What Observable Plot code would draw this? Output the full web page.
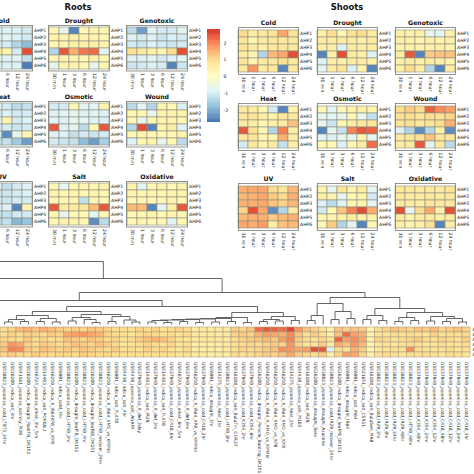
<!DOCTYPE html>
<html>
<head>
<meta charset="utf-8">
<script src="https://cdn.jsdelivr.net/npm/d3@7"></script>
<script src="https://cdn.jsdelivr.net/npm/@observablehq/plot@0.6"></script>
<style>
  html, body { margin: 0; padding: 0; background: #fff; }
  #chart { position: relative; width: 474px; height: 474px; overflow: hidden; font-family: "DejaVu Sans", sans-serif; }
  .head { position: absolute; font-weight: bold; font-size: 8.4px; transform: translate(-50%, -50%); white-space: nowrap; color: #111; }
</style>
</head>
<body>
<div id="chart"></div>
<script>
// ---- shared categories ----
const times = ["30 min", "1 hour", "3 hour", "6 hour", "12 hour", "24 hour"];
const genes = ["AHP1", "AHP2", "AHP3", "AHP4", "AHP5", "AHP6"];
const palette = ["#4575B4", "#91BFDB", "#E0F3F8", "#FFFFBF", "#FEE090", "#FC8D59", "#D73027"];
const colorLow = -2.7, colorHigh = 2.8;
const colorTicks = [-2, -1, 0, 1, 2];

// ---- Roots: log2 fold change, rows AHP1..AHP6, columns 30 min..24 hour ----
const rootsCold = [
  [-0.8, -0.7, -0.9, -0.9, -0.9, -1.0],
  [-0.7, -0.8, -0.8, -0.8, -0.9, -1.0],
  [-0.9, -0.8, -1.0, -1.0, -1.4, -1.8],
  [0.5, -0.9, 0.6, 0.4, -1.0, 2.5],
  [-0.8, -0.9, -0.7, -0.9, -0.8, -1.2],
  [-1.0, -0.8, -0.9, -0.9, -0.9, -2.6]
];
const rootsDrought = [
  [0.3, -0.7, -2.5, 0.3, 0.4, 0.3],
  [0.4, 0.4, 0.5, 0.4, 0.4, 0.3],
  [0.3, 0.4, 0.5, 0.5, 0.5, 0.4],
  [-1.4, 2.4, 1.5, 2.1, 2.2, -0.8],
  [0.3, 0.4, 0.4, 0.3, 0.4, 0.3],
  [-0.7, 0.4, 0.4, 0.3, -0.7, 0.3]
];
const rootsGenotoxic = [
  [-1.3, -2.2, -0.8, -1.0, -1.0, -0.8],
  [-0.9, -1.0, -0.9, -1.1, -0.9, -1.0],
  [-1.0, -1.1, -0.9, -1.0, -1.1, -1.0],
  [0.9, 0.7, 0.5, 0.3, 1.0, 2.5],
  [-0.9, -0.9, -0.8, -1.0, -0.9, -0.8],
  [-1.1, -1.0, -0.9, -1.0, -2.5, -1.1]
];
const rootsHeat = [
  [-0.9, -1.1, -0.8, -1.0, -1.3, -1.2],
  [-0.8, -0.9, -1.0, -0.9, -1.0, -1.0],
  [0.3, -0.8, -0.9, 0.4, -1.0, -0.9],
  [-0.9, 0.4, -1.0, -1.0, -1.1, -1.0],
  [-1.0, -0.9, -1.1, -2.4, -0.7, 0.3],
  [-1.1, -1.0, -1.2, -1.2, -1.6, -2.2]
];
const rootsOsmotic = [
  [-1.0, -1.0, 0.3, -0.8, -0.8, 0.4],
  [-0.9, -0.8, -0.8, -0.9, -0.8, -0.9],
  [-0.8, -0.9, -0.7, -0.8, -0.9, -0.9],
  [2.4, -0.9, -0.8, -1.3, 0.3, 2.4],
  [-0.9, -0.9, -1.2, -1.0, -1.1, -1.0],
  [-1.0, -1.1, -1.2, -1.8, -2.2, -1.5]
];
const rootsWound = [
  [-1.3, -0.8, -1.4, 0.4, 0.3, -0.9],
  [0.3, 0.3, -0.7, 0.4, 0.4, 0.4],
  [0.3, -0.7, 0.3, 0.4, 0.4, 0.3],
  [-1.4, 2.5, -2.5, 0.4, 0.6, -0.9],
  [0.3, 0.4, 0.3, 0.3, 0.3, 0.4],
  [-0.9, 0.3, 0.4, -0.7, 0.3, -1.3]
];
const rootsUV = [
  [-1.0, -1.1, -0.9, -1.2, -1.0, -0.9],
  [-0.9, -1.0, -1.1, -1.1, -1.0, -0.9],
  [-1.0, -0.9, -1.0, -1.1, -1.0, -1.0],
  [0.4, -1.0, -0.9, -0.9, -2.5, 0.4],
  [-1.1, -1.0, -1.2, -1.2, -1.0, -1.0],
  [-1.2, -1.1, -1.3, -1.2, -1.9, -1.7]
];
const rootsSalt = [
  [0.3, -0.7, 0.3, 0.4, 0.3, 0.4],
  [0.4, 0.3, 0.4, 0.3, 0.4, 0.3],
  [0.3, 0.3, 0.4, -1.2, 0.3, 0.3],
  [2.4, 0.6, 0.6, 0.8, 1.4, 2.4],
  [0.3, -0.7, 0.3, 0.3, -0.8, 0.3],
  [0.3, 0.4, 0.4, 0.3, -2.4, -1.3]
];
const rootsOxidative = [
  [0.4, -0.8, 0.3, 0.4, 0.3, 0.4],
  [0.4, 0.3, 0.4, 0.3, 0.4, 0.4],
  [0.3, 0.3, 0.3, 0.3, 0.4, 0.3],
  [1.4, 1.4, -2.5, -0.8, 0.5, 2.4],
  [0.3, 0.3, 0.4, 0.3, 0.4, 0.3],
  [0.3, 0.4, 0.3, 0.3, -0.8, 0.3]
];

// ---- Shoots ----
const shootsCold = [
  [1.0, 0.6, 0.7, 0.8, 1.6, 0.8],
  [0.8, 0.3, 0.6, 0.7, 0.7, 0.7],
  [0.8, 0.6, 0.5, 0.7, 0.8, 0.7],
  [0.6, 0.4, -1.4, 1.4, 1.6, 2.5],
  [0.8, 0.3, 0.6, 0.7, 0.9, 0.7],
  [0.7, 1.8, 0.6, 0.7, -2.5, 0.7]
];
const shootsDrought = [
  [0.5, 1.0, 0.3, 0.9, 1.0, 0.6],
  [0.6, 0.6, 0.6, 0.6, 0.5, 0.6],
  [0.5, 0.5, -0.9, 0.6, 0.6, 0.5],
  [-2.5, 0.5, 2.5, 0.6, 0.5, -0.9],
  [-0.9, 0.5, 0.5, 0.6, 0.6, 0.4],
  [-0.8, 0.6, 0.8, -0.9, 0.4, -2.5]
];
const shootsGenotoxic = [
  [0.5, 0.4, 0.5, -0.7, -0.7, 0.5],
  [0.5, 0.5, 0.4, 0.5, 0.4, 0.5],
  [0.4, 0.5, 0.4, 0.4, 0.5, 0.4],
  [0.6, 2.4, -2.5, 1.2, 1.3, 1.3],
  [0.5, 0.6, 0.5, 0.6, 0.5, 0.4],
  [0.5, 1.0, 0.5, -1.4, -2.5, 0.6]
];
const shootsHeat = [
  [0.7, 0.6, 0.3, -1.0, -2.5, 0.4],
  [0.7, 0.8, 0.5, 0.4, 0.7, 0.6],
  [0.6, 0.5, 0.3, 0.5, 0.6, 1.3],
  [2.4, 0.9, 0.3, -1.4, 2.0, 0.5],
  [0.7, 0.8, 0.4, 0.3, 1.5, 0.5],
  [-1.0, 0.7, 0.4, 0.6, -1.2, 0.5]
];
const shootsOsmotic = [
  [0.3, -0.8, 0.3, 0.4, 0.5, 0.4],
  [-0.7, -0.8, -0.7, 0.3, -0.7, -1.2],
  [-0.7, -1.1, 0.3, 0.6, 0.7, 0.8],
  [-2.5, -0.7, -1.2, 2.0, 2.4, 2.3],
  [-0.8, -0.9, -0.7, -0.7, 0.3, -0.7],
  [0.3, 0.3, -0.9, 0.3, 0.6, 2.2]
];
const shootsWound = [
  [1.0, 1.2, 1.0, 2.3, 1.9, 1.7],
  [0.9, 1.0, 0.8, 1.0, 0.9, 1.1],
  [0.8, 0.9, 0.7, 0.8, 1.0, 1.5],
  [-0.9, -1.4, -2.4, -1.4, 0.5, -2.4],
  [0.7, 0.8, 0.9, 1.3, 0.8, 0.8],
  [0.6, 0.7, 2.4, -0.7, 0.7, -1.3]
];
const shootsUV = [
  [1.5, 1.6, 1.6, 1.0, 0.8, 1.4],
  [1.4, 1.5, 1.6, 1.2, 1.0, 1.5],
  [1.5, 1.5, 1.6, 1.3, 1.1, 1.4],
  [1.1, 2.5, 1.6, -2.4, -1.4, 0.6],
  [1.4, 1.5, 1.5, 1.2, 1.4, 1.5],
  [1.6, 1.5, 1.7, 0.5, 1.3, 1.4]
];
const shootsSalt = [
  [0.4, -0.7, 0.8, 0.4, 0.6, -0.7],
  [0.5, 0.4, -0.7, 0.3, 0.4, -1.0],
  [-0.9, -1.3, -0.8, 0.3, 0.4, -0.8],
  [-1.0, 0.3, 1.3, 2.0, 2.5, 1.5],
  [0.3, 0.4, 0.5, 0.6, 0.5, 0.4],
  [0.3, 1.2, -1.4, -0.8, -2.5, 0.3]
];
const shootsOxidative = [
  [0.8, 0.7, 0.6, 0.7, 0.6, 0.8],
  [0.7, 0.6, 0.6, 0.7, 0.6, 0.7],
  [0.6, 0.6, 0.6, 0.8, 0.7, 0.7],
  [2.5, -0.7, 1.0, 1.6, 0.5, 2.5],
  [0.6, 0.4, 0.6, 0.6, 0.5, 0.6],
  [0.5, 0.4, 0.5, 0.9, -2.5, 0.6]
];

// ---- Rice expression series (columns of the clustered strip) ----
const studyLabels = [
  "GSE38023_japonica_cold_LTBT3_24hr", "GSE26280_indica_salt_4hr", "GSE41161_japonica_salinity_M20",
  "GSE26280_indica_drought_RootFB_DK151", "GSE46724_japonica_alkali_3hr_Sm", "GSE14403_indica_salt_POKKALI",
  "GSE46250_indica_K_IR64KP8_vs_KM5", "GSE6901_indica_cold_3hr", "GSE38023_japonica_cold_LHT40_2hr",
  "GSE26280_indica_drought_leafFB_DK151", "GSE38023_japonica_cold_LHT40_4hr", "GSE26280_indica_drought_leafBB_DK151",
  "GSE38023_japonica_cold_LHT40_recover_24hr", "GSE46250_indica_K_IR64_KM5_vs_KMMbl", "GSE6901_indica_salt_FL478",
  "GSE4438_indica_salt_4hr", "GSE4438_japonica_salt_AGAMI", "GSE37940_japonica_K_def_3day",
  "GSE14403_indica_salt_IR29", "GSE37940_japonica_K_def_3hr", "GSE14403_indica_salt_FL478",
  "GSE37940_japonica_cold_C418_6hr", "GSE46724_japonica_alkali_6hr_Sm", "GSE37940_japonica_K_def_6hr",
  "GSE46250_indica_K_IR64_KP8_vs_KMMbl", "GSE37940_japonica_cold_C418_2hr", "GSE6901_indica_drought_3hr",
  "GSE14275_japonica_heat_1hr", "GSE38023_japonica_cold_LHT40_8hr", "GSE16108_indica_salt_BuluTiri_COR37",
  "GSE37940_japonica_cold_K354_2hr", "GSE37940_japonica_cold_K354_6hr", "GSE26280_indica_drought_Panicle_Booting_DK151",
  "GSE46250_indica_K_IR64_K_KMO_vs_KMMbl", "GSE46250_indica_K_IR64_KMO_vs_KP8", "GSE46250_indica_K_IR64_KMO_vs_KM5",
  "GSE14275_japonica_heat_2hr", "GSE4438_japonica_salt_M103", "GSE16108_indica_salt_IR29",
  "GSE26280_japonica_drought_Bala", "GSE38023_japonica_drought_Azucena", "GSE38023_japonica_cold_IR29_recover_24hr",
  "GSE26280_indica_drought_leafPB_DK151", "GSE6901_indica_drought_IR64", "GSE6901_indica_salt_IR64",
  "GSE21651_indica_salt_CSR11", "GSE16108_indica_salt_BuluSen_MA8", "GSE38023_japonica_cold_IR29_2hr",
  "GSE38023_japonica_cold_IR29_8hr", "GSE38023_japonica_cold_IR29_24hr", "GSE38023_japonica_cold_IR29_48hr",
  "GSE38023_japonica_cold_LHT40_48hr", "GSE37940_japonica_cold_K354_48hr", "GSE37940_japonica_cold_K354_24hr",
  "GSE37940_japonica_cold_K354_12hr", "GSE37940_japonica_cold_C418_48hr", "GSE37940_japonica_cold_C418_12hr",
  "GSE37940_japonica_cold_C418_24hr", "GSE37940_japonica_cold_C418_3hr"
];
const studyAHP1 = [1.0,1.1,1.4,1.5,1.3,1.5,1.4,1.2, 1.1,1.2,1.1,1.3,1.2,1.1,1.0, 1.0,0.9,1.1,1.0,1.1,0.9,1.0,1.1,1.0, 0.6,0.7,0.6,0.7,0.6, 1.2,1.1,1.3, 2.2,2.4,2.3,2.2,2.6,1.8, 1.3,1.1,0.9, 0.4, 1.3,1.2,1.3,1.2, 0.3, 1.0,1.1,1.3,1.2,1.1,1.3,1.2,1.4,1.1,1.2,1.3,1.1];
const studyAHP2 = [0.9,1.1,1.0,1.2,1.1,1.0,1.2,1.1, 1.6,1.7,1.8,1.6,1.5,1.1,1.0, 0.9,0.8,1.0,1.1,1.0,0.9,1.0,0.9,1.0, 0.7,0.6,0.7,0.6,0.7, 1.1,1.2,1.1, 1.5,1.7,1.6,1.5,1.9,1.3, 0.9,1.2,1.0, 0.5, 1.3,2.2,1.7,1.5, 0.4, 0.9,0.8,1.0,0.9,1.0,0.9,0.8,1.1,0.9,1.0,0.9,1.0];
const studyAHP3 = [1.1,1.0,0.9,1.2,1.0,1.1,0.9,1.0, 1.3,1.2,1.1,1.3,1.2,1.0,1.1, 0.9,1.0,1.2,1.3,1.5,1.3,1.1,0.9,0.8, 0.6,0.6,0.7,0.6,0.6, 1.0,1.1,1.2, 1.3,1.4,1.2,1.7,2.0,1.2, 1.0,0.9,1.1, 0.8, 2.3,1.7,1.9,1.6, 0.4, 1.1,1.0,0.9,1.0,1.1,1.2,1.0,0.9,1.1,1.0,0.9,1.1];
const studyAHP4 = [1.2,1.8,1.6,1.1,1.0,1.2,1.1,1.0, 1.1,1.3,1.2,1.1,1.3,1.2,1.0, 0.8,0.9,1.0,1.1,1.0,0.9,1.1,0.8,0.9, 0.5,0.6,0.5,0.6,0.7, 0.9,1.0,1.1, 1.0,1.1,1.2,1.1,1.8,1.1, 0.8,0.9,1.2, 0.6, 1.6,1.3,1.8,1.4, 0.3, 0.8,0.9,0.8,0.9,1.0,0.9,0.8,0.9,1.0,0.8,0.9,1.0];
const studyAHP5 = [1.3,2.0,1.9,1.2,1.1,1.3,1.2,1.1, 1.2,1.1,1.3,1.2,1.1,1.0,1.2, 0.9,1.0,0.9,1.1,1.0,1.1,0.9,0.8,1.0, 0.6,0.5,0.6,0.5,0.6, 0.9,1.1,1.0, 1.1,1.2,1.3,1.9,1.8,1.6, 1.7,2.5,2.4, -0.9, 1.0,0.9,1.5,1.2, 0.3, 0.8,0.9,1.0,0.9,1.9,1.0,0.9,0.8,0.9,1.0,0.8,0.9];
const studyAHP6 = [1.1,1.2,1.1,1.0,1.2,1.1,1.0,1.1, 1.1,1.0,1.2,1.1,1.0,1.1,1.0, 0.9,1.0,0.9,1.0,0.9,1.0,0.9,0.8,0.9, 0.6,0.6,0.5,0.6,0.6, 1.0,0.9,1.0, 1.1,1.2,1.1,1.3,1.6,1.2, 1.1,1.0,1.2, 0.5, 1.1,1.7,1.6,1.1, 0.4, 0.9,1.0,0.9,0.8,1.0,0.9,1.0,0.9,0.8,1.0,0.9,0.8];

// Hierarchical clustering of the series: [mergeHeight, left, right]; a bare number is a column.
// Columns below 0 belong to series to the left of the shown strip.
const clusterC = [1.3,
  [0.9, [0.5, [0.25, 0, 1], [0.3, 2, 3]], [0.6, [0.3, 4, 5], [0.25, 6, 7]]],
  [1.0, [0.7, [0.35, 8, 9], [0.5, 10, [0.2, 11, 12]]], [0.8, [0.3, 13, 14], [0.45, 15, [0.25, 16, 17]]]]];
const clusterD1 = [0.7, [0.6, [0.55, [0.5, [0.45, [0.4, [0.25, 18, 19], [0.2, 20, 21]], [0.3, 22, 23]], [0.2, 24, 25]], [0.25, 26, 27]], [0.3, 28, 29]], [0.2, 30, 31]];
const clusterD2 = [0.8, [0.5, [0.3, 32, 33], [0.35, 34, 35]], [0.4, 36, 37]];
const clusterN6 = [2.1, [0.9, [0.4, 38, 39], 40], [1.3, [0.5, 41, 42], [0.6, 43, 44]]];
const clusterN7 = [1.6, [0.9, [0.5, 45, 46], [0.4, 47, 48]],
  [1.2, [0.7, [0.3, 49, 50], [0.4, 51, 52]], [0.8, [0.35, 53, 54], [0.6, [0.3, 55, 56], [0.25, 57, 58]]]]];
const clusterTree = [6.3, -4,
  [4.6, [2.5, -3, -2],
    [3.2,
      [2.4, -1, [1.8, clusterC, [1.2, clusterD1, clusterD2]]],
      [2.7, clusterN6, clusterN7]]]];

// ---- helpers ----
const chart = document.getElementById("chart");
const colorScale = {
  type: "linear",
  domain: [colorLow, colorHigh],
  interpolate: d3.piecewise(d3.interpolateRgb, palette)
};
const baseStyle = {
  fontFamily: "DejaVu Sans", fontSize: "4.6px", background: "transparent",
  overflow: "visible", color: "#222"
};
function place(node, left, top) {
  node.style.position = "absolute";
  node.style.left = left + "px";
  node.style.top = top + "px";
  chart.appendChild(node);
}
function heading(text, x, y) {
  const d = document.createElement("div");
  d.className = "head";
  d.textContent = text;
  d.style.left = x + "px";
  d.style.top = y + "px";
  chart.appendChild(d);
}

function heatPanel(title, matrix, left, top, w, h) {
  const data = matrix.flatMap((row, i) => row.map((v, j) => ({gene: genes[i], time: times[j], v})));
  const mL = 2, mR = 22, mT = 12, mB = 26;
  const svg = Plot.plot({
    width: w + mL + mR, height: h + mT + mB,
    marginLeft: mL, marginRight: mR, marginTop: mT, marginBottom: mB,
    style: baseStyle,
    x: {domain: times, padding: 0, tickRotate: 90, tickSize: 0, tickPadding: 2, label: null},
    y: {domain: genes, padding: 0, axis: "right", tickSize: 0, tickPadding: 1.5, label: null},
    color: colorScale,
    marks: [
      Plot.cell(data, {x: "time", y: "gene", fill: "v", stroke: "#8e8e80", strokeWidth: 0.6, inset: 0}),
      Plot.frame({stroke: "#7a7a70", strokeWidth: 0.8}),
      Plot.text([title], {frameAnchor: "top", lineAnchor: "bottom", dy: -2.5,
        fontWeight: "bold", fontSize: 6.2, fill: "#111"})
    ]
  });
  place(svg, left - mL, top - mT);
}

// ---- Roots ----
heading("Roots", 78, 7);
const rootW = 61, rootH = 45.5;
heatPanel("Cold", rootsCold, -29, 25, rootW, rootH);
heatPanel("Drought", rootsDrought, 48, 25, rootW, rootH);
heatPanel("Genotoxic", rootsGenotoxic, 126, 25, rootW, rootH);
heatPanel("Heat", rootsHeat, -29, 101, rootW, rootH);
heatPanel("Osmotic", rootsOsmotic, 48, 101, rootW, rootH);
heatPanel("Wound", rootsWound, 126, 101, rootW, rootH);
heatPanel("UV", rootsUV, -29, 181, rootW, rootH);
heatPanel("Salt", rootsSalt, 48, 181, rootW, rootH);
heatPanel("Oxidative", rootsOxidative, 126, 181, rootW, rootH);

// ---- Shoots ----
heading("Shoots", 347, 7);
const shootW = 60, shootH = 47;
heatPanel("Cold", shootsCold, 238, 27, shootW, shootH);
heatPanel("Drought", shootsDrought, 317, 27, shootW, shootH);
heatPanel("Genotoxic", shootsGenotoxic, 395, 27, shootW, shootH);
heatPanel("Heat", shootsHeat, 238, 103, shootW, shootH);
heatPanel("Osmotic", shootsOsmotic, 317, 103, shootW, shootH);
heatPanel("Wound", shootsWound, 395, 103, shootW, shootH);
heatPanel("UV", shootsUV, 238, 183, shootW, shootH);
heatPanel("Salt", shootsSalt, 317, 183, shootW, shootH);
heatPanel("Oxidative", shootsOxidative, 395, 183, shootW, shootH);

// ---- colour key ----
{
  const step = 0.05;
  const stops = d3.range(colorLow, colorHigh, step);
  const svg = Plot.plot({
    width: 13 + 14, height: 93,
    marginLeft: 0, marginRight: 14, marginTop: 0, marginBottom: 0,
    style: baseStyle,
    x: {domain: [0, 1], axis: null},
    y: {domain: [colorLow, colorHigh], axis: "right", ticks: colorTicks, tickFormat: d => String(d),
        tickSize: 0, tickPadding: 3, label: null},
    color: colorScale,
    marks: [
      Plot.rect(stops, {x1: 0, x2: 1, y1: d => d, y2: d => Math.min(colorHigh, d + step * 1.6), fill: d => d + step / 2})
    ]
  });
  place(svg, 207, 29);
}

// ---- dendrogram over the series strip ----
function layout(node, segs) {
  if (typeof node === "number") return {x: node, h: 0};
  const [h, a, b] = node;
  const L = layout(a, segs), R = layout(b, segs);
  segs.push({x1: L.x, y1: h, x2: R.x, y2: h});
  segs.push({x1: L.x, y1: h, x2: L.x, y2: L.h});
  segs.push({x1: R.x, y1: h, x2: R.x, y2: R.h});
  return {x: (L.x + R.x) / 2, h};
}
const treeSegs = [];
layout(clusterTree, treeSegs);
{
  const svg = Plot.plot({
    width: 474, height: 72,
    marginLeft: 0, marginRight: 4, marginTop: 5, marginBottom: 3,
    style: baseStyle,
    x: {domain: [-0.5, studyLabels.length - 0.5], axis: null},
    y: {domain: [0, 6.4], axis: null},
    marks: [
      Plot.link(treeSegs, {x1: "x1", y1: "y1", x2: "x2", y2: "y2", stroke: "#555", strokeWidth: 0.9})
    ]
  });
  place(svg, 0, 255);
}

// ---- clustered series heat strip ----
{
  const rows = [studyAHP1, studyAHP2, studyAHP3, studyAHP4, studyAHP5, studyAHP6];
  const data = rows.flatMap((row, i) => row.map((v, j) => ({gene: genes[i], study: studyLabels[j], v})));
  const svg = Plot.plot({
    width: 474, height: 32 + 120,
    marginLeft: 0, marginRight: 4, marginTop: 0, marginBottom: 120,
    style: {...baseStyle, fontSize: "4.4px"},
    x: {domain: studyLabels, padding: 0, tickRotate: 90, tickSize: 0, tickPadding: 3.5, label: null},
    y: {domain: genes, padding: 0, axis: "right", tickSize: 0, tickPadding: 2, label: null},
    color: colorScale,
    marks: [
      Plot.cell(data, {x: "study", y: "gene", fill: "v", stroke: "#b09f82", strokeWidth: 0.6, inset: 0})
    ]
  });
  place(svg, 0, 326);
}
</script>
</body>
</html>
